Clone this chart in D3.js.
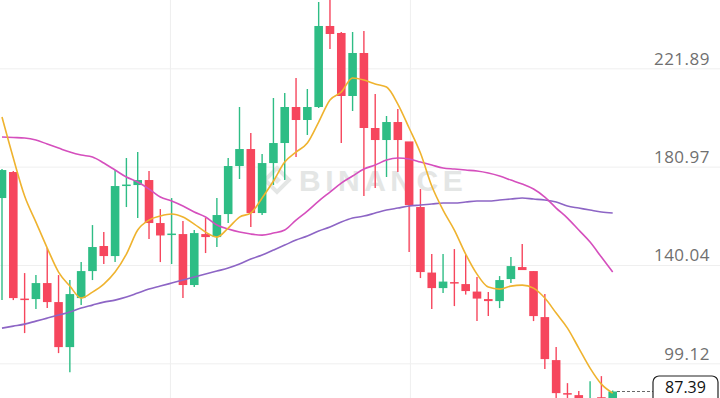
<!DOCTYPE html>
<html>
<head>
<meta charset="utf-8">
<script src="https://cdn.jsdelivr.net/npm/d3@7"></script>
<style>
html,body{margin:0;padding:0;background:#fff;}
svg{display:block;}
</style>
</head>
<body>
<svg id="chart" width="720" height="398"></svg>
<script>
// ---- data ----
const openP  = [167.9,178.72,126.05,125.85,132.51,124.6,105.86,126.26,137.5,147.93,143.75,172.89,173.3,175.39,157.49,152.69,152.9,131.69,152.9,151.65,161.23,181.22,188.29,161.65,182.46,190.79,205.78,200.37,205.78,239.5,236.59,210.36,228.26,197.04,192.04,199.53,191.46,164.15,136.88,130.42,132.92,132.09,128.97,125.85,125.01,134.17,139.17,137.5,118.35,100.45,86.71,85.88,80.5,85.0,82.0];
const highP  = [179.97,179.13,136.67,135.84,147.09,135.84,133.76,141.25,156.65,153.74,179.55,184.55,187.04,179.13,163.31,167.89,158.32,154.57,159.57,167.89,184.55,205.78,194.95,186.21,209.53,211.61,217.85,213.27,249.49,250.6,237.0,237.0,237.42,211.19,202.03,204.95,188.7,171.64,144.58,144.58,146.66,144.37,135.0,128.76,135.42,143.33,148.74,137.5,127.93,105.86,90.87,87.55,91.7,93.79,87.8];
const lowP   = [125.43,125.43,111.69,121.68,122.1,103.36,95.44,123.35,133.76,140.42,141.25,164.15,159.57,150.82,141.25,140.42,126.26,130.85,145.0,147.51,157.49,175.81,155.82,160.82,173.31,175.39,184.96,194.12,205.36,229.92,190.79,204.11,168.73,172.06,176.64,178.72,145.41,134.59,121.68,128.34,122.93,127.72,116.69,118.77,122.1,132.51,137.92,116.69,96.7,81.0,80.0,79.0,78.0,79.0,80.0];
const closeP = [179.55,126.26,125.64,132.51,124.6,105.86,127.93,137.5,147.51,143.75,172.89,173.51,175.39,157.49,152.32,153.11,131.69,153.32,151.65,160.82,181.22,188.29,161.65,182.46,190.79,205.78,200.37,205.78,239.5,236.17,210.36,228.26,197.04,192.04,199.53,192.04,164.98,137.09,130.42,133.13,132.3,129.18,126.05,125.01,133.76,139.58,137.92,118.77,100.87,86.71,86.3,83.8,83.0,82.0,87.39];
const ma7    = [201.61,184.54,168.72,157.9,147.07,137.08,131.25,126.26,128.75,132.08,137.08,144.57,154.57,158.73,160.39,161.23,159.98,157.06,153.73,151.65,155.4,159.98,161.64,167.89,174.97,182.88,187.04,190.79,199.53,208.69,212.02,217.85,217.01,215.35,214.1,207.02,197.03,186.62,172.88,162.89,154.57,144.57,136.25,130.84,130.0,131.25,131.67,130.42,126.26,120.01,113.77,105.44,97.11,90.45,86.71];
const ma25   = [193.28,193.08,192.87,192.04,190.37,188.7,187.04,185.79,184.96,182.46,179.55,176.63,174.55,171.64,168.3,166.64,164.56,162.06,159.98,156.65,154.98,153.73,152.9,152.48,153.32,154.57,158.73,162.48,166.64,170.39,174.13,177.05,179.96,181.63,183.71,184.54,184.13,182.88,181.63,180.38,179.96,179.55,179.13,178.3,177.05,175.38,173.72,171.64,168.3,163.73,159.56,154.57,149.57,143.32,137.08];
const ma99   = [113.77,114.6,115.43,116.68,117.93,119.18,120.43,122.09,123.34,124.59,125.42,126.67,128.34,130.0,131.25,132.5,133.75,135.0,136.25,137.5,138.75,140.41,142.49,144.16,146.24,148.32,150.4,152.07,154.15,155.82,157.9,159.56,160.39,161.64,162.89,163.73,164.56,164.97,165.39,165.81,165.81,166.22,166.64,166.64,167.06,167.47,167.89,167.47,167.06,166.22,164.56,163.73,162.89,162.06,161.64];
const yTicks = [221.89, 180.97, 140.04, 99.12];
const timeGridIdx = [14.85, 36.07];
const lastPrice = 87.39;
const watermark = "BINANCE";

// ---- layout ----
const W = 720, H = 398;
const svg = d3.select("#chart");
const n = openP.length;
const x = d3.scaleLinear().domain([0, n - 1]).range([2, 612.7]);
const y = d3.scaleLinear().domain([99.12, 221.89]).range([363.3, 68.3]);
const step = x(1) - x(0);
const bodyW = step * 0.76;

const green = "#2ebd85", red = "#f6465d";

// clip
svg.append("defs").append("clipPath").attr("id", "plot")
  .append("rect").attr("x", 0).attr("y", 0).attr("width", W).attr("height", H);

// gridlines
const yAxis = d3.axisRight(y).tickValues(yTicks).tickSize(W).tickFormat(d3.format(".2f"));
const gy = svg.append("g").call(yAxis);
gy.select(".domain").remove();
gy.selectAll(".tick line").attr("stroke", "#efefef").attr("stroke-width", 1);
gy.selectAll(".tick text")
  .attr("x", 710).attr("dy", "-4px").attr("text-anchor", "end")
  .attr("fill", "#707070")
  .style("font-family", "'Open Sans', 'DejaVu Sans', sans-serif")
  .style("font-size", "17px").style("letter-spacing", "0.5px");

const xAxis = d3.axisBottom(x).tickValues(timeGridIdx).tickSize(H).tickFormat("");
const gx = svg.append("g").call(xAxis);
gx.select(".domain").remove();
gx.selectAll(".tick line").attr("stroke", "#efefef");

// watermark
const wm = svg.append("g").attr("fill", "#e4e6e5");
const lx = 277, ly = 180;
const diamond = (cx, cy, r) => `M${cx},${cy-r}L${cx+r},${cy}L${cx},${cy+r}L${cx-r},${cy}Z`;
wm.append("path").attr("d", diamond(lx, ly, 12)).attr("fill", "none").attr("stroke", "#e4e6e5").attr("stroke-width", 4);
wm.append("path").attr("d", diamond(lx, ly, 4));
wm.append("text").attr("x", 299).attr("y", 191).text(watermark)
  .style("font-family", "'Liberation Sans', Arial, sans-serif")
  .style("font-weight", "bold").style("font-size", "30px").style("letter-spacing", "4.5px");

// candles
const data = d3.range(n).map(i => ({i, o: openP[i], h: highP[i], l: lowP[i], c: closeP[i]}));
const cg = svg.append("g").attr("clip-path", "url(#plot)");
cg.selectAll("line.wick").data(data).join("line")
  .attr("x1", d => x(d.i)).attr("x2", d => x(d.i))
  .attr("y1", d => y(d.h)).attr("y2", d => y(d.l))
  .attr("stroke", d => d.c >= d.o ? green : red).attr("stroke-width", 1.4);
cg.selectAll("rect.body").data(data).join("rect")
  .attr("x", d => x(d.i) - bodyW / 2).attr("width", bodyW)
  .attr("y", d => y(Math.max(d.o, d.c)))
  .attr("height", d => Math.max(1.5, Math.abs(y(d.o) - y(d.c))))
  .attr("fill", d => d.c >= d.o ? green : red);

// moving averages
const line = d3.line().x((d, i) => x(i)).y(d => y(d)).curve(d3.curveMonotoneX);
[[ma99, "#8d65c5"], [ma25, "#d54fbd"], [ma7, "#efb32f"]].forEach(([arr, col]) => {
  cg.append("path").datum(arr).attr("d", line)
    .attr("fill", "none").attr("stroke", col).attr("stroke-width", 1.6);
});

// last price
const py = y(lastPrice);
svg.append("line").attr("x1", x(n - 1) + bodyW / 2).attr("x2", 653)
  .attr("y1", py).attr("y2", py).attr("stroke", "#666").attr("stroke-dasharray", "3,2");
svg.append("rect").attr("x", 653).attr("y", 376).attr("width", 65).attr("height", 28)
  .attr("rx", 6).attr("fill", "#fff").attr("stroke", "#222").attr("stroke-width", 1.2);
svg.append("text").attr("x", 685.5).attr("y", 393).attr("text-anchor", "middle")
  .attr("fill", "#111").text(lastPrice.toFixed(2))
  .style("font-family", "'Open Sans', 'DejaVu Sans', sans-serif").style("font-size", "16px");
</script>
</body>
</html>
